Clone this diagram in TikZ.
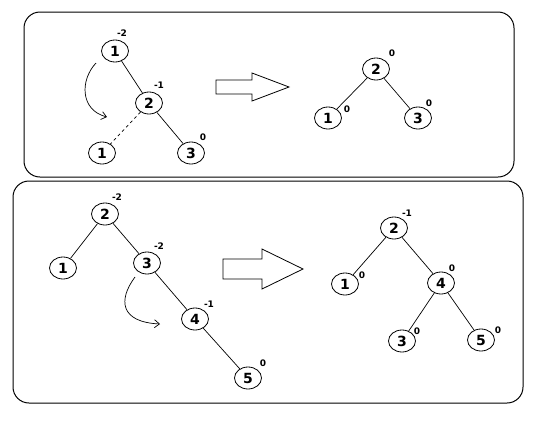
\documentclass[tikz,border=0pt]{standalone}
\usepackage{fontspec}
\setmainfont{DejaVu Sans}
\usetikzlibrary{shapes.geometric,arrows.meta}
\tikzset{
  tn/.style={ellipse,draw,line width=0.8pt,minimum width=27pt,minimum height=22pt,inner sep=0pt,font=\fontsize{14}{14}\selectfont\bfseries},
  bf/.style={font=\fontsize{9}{9}\selectfont\bfseries,inner sep=0pt},
  edge/.style={line width=0.7pt},
  bigarrow/.style={draw,line width=0.8pt,fill=white},
  frame/.style={draw,line width=1pt,rounded corners=16pt},
  curv/.style={line width=0.7pt,-{Straight Barb[length=5pt,width=8pt]}}
}
\begin{document}
\begin{tikzpicture}[x=1pt,y=-1pt]
\useasboundingbox (0,0) rectangle (549,421);
% frames
\draw[frame] (24,12) rectangle (514,177);
\draw[frame] (13,181) rectangle (523,403);

% top-left tree
\node[tn] (a1) at (115,51) {1};
\node[tn] (a2) at (149,103) {2};
\node[tn] (a1b) at (102,153) {1};
\node[tn] (a3) at (191,153) {3};
\draw[edge] (a1) -- (a2);
\draw[edge,dashed] (a2) -- (a1b);
\draw[edge] (a2) -- (a3);
\node[bf] (la1) at (122,33) {-2};
\node[bf] (la2) at (159,85) {-1};
\node[bf] (la3) at (203,137) {0};
\coordinate (ca) at (96,63);
\coordinate (cb) at (107,117);
\draw[curv] (ca) .. controls (80,80) and (80,110) .. (cb);

% top arrow
\draw[bigarrow] (216,80) -- (252,80) -- (252,73) -- (289,87) -- (252,101) -- (252,94) -- (216,94) -- cycle;

% top-right tree
\node[tn] (b2) at (376,69) {2};
\node[tn] (b1) at (328,118) {1};
\node[tn] (b3) at (418,118) {3};
\draw[edge] (b2) -- (b1);
\draw[edge] (b2) -- (b3);
\node[bf] (lb2) at (392,53) {0};
\node[bf] (lb1) at (347,109) {0};
\node[bf] (lb3) at (429,103) {0};

% bottom-left tree
\node[tn] (c2) at (105,214) {2};
\node[tn] (c1) at (63,268) {1};
\node[tn] (c3) at (147,263) {3};
\node[tn] (c4) at (195,319) {4};
\node[tn] (c5) at (248,378) {5};
\draw[edge] (c2) -- (c1);
\draw[edge] (c2) -- (c3);
\draw[edge] (c3) -- (c4);
\draw[edge] (c4) -- (c5);
\node[bf] (lc2) at (117,197) {-2};
\node[bf] (lc3) at (159,246) {-2};
\node[bf] (lc4) at (209,304) {-1};
\node[bf] (lc5) at (263,363) {0};
\coordinate (cc) at (135,277);
\coordinate (cd) at (160,324);
\draw[curv] (cc) .. controls (118,300) and (120,322) .. (cd);

% bottom arrow
\draw[bigarrow] (223,259) -- (262,259) -- (262,249) -- (303,269) -- (262,289) -- (262,279) -- (223,279) -- cycle;

% bottom-right tree
\node[tn] (d2) at (394,228) {2};
\node[tn] (d1) at (345,284) {1};
\node[tn] (d4) at (441,283) {4};
\node[tn] (d3) at (402,341) {3};
\node[tn] (d5) at (481,340) {5};
\draw[edge] (d2) -- (d1);
\draw[edge] (d2) -- (d4);
\draw[edge] (d4) -- (d3);
\draw[edge] (d4) -- (d5);
\node[bf] (ld2) at (407,213) {-1};
\node[bf] (ld1) at (362,275) {0};
\node[bf] (ld4) at (452,268) {0};
\node[bf] (ld3) at (417,331) {0};
\node[bf] (ld5) at (498,330) {0};
\end{tikzpicture}
\end{document}
